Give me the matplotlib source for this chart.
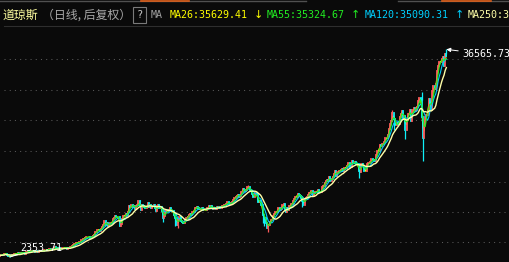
import numpy as np
import pandas as pd
import matplotlib
matplotlib.use("Agg")
import matplotlib.pyplot as plt
from matplotlib.patches import Rectangle

# Dow Jones monthly closes, Jan 1990 .. Nov 2021 (one row per year)
monthly_close = [
    [2590, 2627, 2707, 2657, 2877, 2881, 2905, 2614, 2452, 2442, 2560, 2634],
    [2736, 2882, 2914, 2888, 3028, 2907, 3025, 3044, 3017, 3069, 2895, 3169],
    [3223, 3268, 3235, 3359, 3397, 3319, 3394, 3257, 3272, 3226, 3305, 3301],
    [3310, 3371, 3435, 3428, 3527, 3516, 3539, 3651, 3555, 3681, 3684, 3754],
    [3978, 3832, 3636, 3682, 3758, 3625, 3765, 3913, 3843, 3908, 3739, 3834],
    [3844, 4011, 4158, 4321, 4465, 4556, 4708, 4611, 4789, 4755, 5074, 5117],
    [5395, 5486, 5587, 5569, 5643, 5655, 5529, 5616, 5882, 6029, 6522, 6448],
    [6813, 6878, 6583, 7009, 7331, 7673, 8223, 7622, 7945, 7442, 7823, 7908],
    [7907, 8546, 8800, 9063, 8900, 8952, 8883, 7539, 7843, 8592, 9117, 9181],
    [9359, 9307, 9786, 10789, 10560, 10971, 10655, 10829, 10337, 10730, 10878, 11497],
    [10941, 10128, 10922, 10734, 10522, 10448, 10522, 11215, 10651, 10971, 10414, 10787],
    [10887, 10495, 9879, 10735, 10912, 10502, 10523, 9950, 8848, 9075, 9852, 10022],
    [9920, 10106, 10404, 9946, 9925, 9243, 8737, 8664, 7592, 8397, 8896, 8342],
    [8054, 7891, 7992, 8480, 8850, 8985, 9234, 9416, 9275, 9801, 9782, 10454],
    [10488, 10584, 10358, 10226, 10188, 10435, 10140, 10174, 10080, 10027, 10428, 10783],
    [10490, 10766, 10504, 10193, 10467, 10275, 10641, 10482, 10569, 10440, 10806, 10718],
    [10865, 10993, 11109, 11367, 11168, 11150, 11186, 11381, 11679, 12081, 12222, 12463],
    [12622, 12269, 12354, 13063, 13628, 13409, 13212, 13358, 13896, 13930, 13372, 13265],
    [12650, 12266, 12263, 12820, 12638, 11350, 11378, 11544, 10851, 9325, 8829, 8776],
    [8001, 7063, 7609, 8168, 8500, 8447, 9172, 9496, 9712, 9713, 10345, 10428],
    [10067, 10325, 10857, 11009, 10137, 9774, 10466, 10015, 10788, 11118, 11006, 11578],
    [11892, 12226, 12320, 12811, 12570, 12414, 12143, 11614, 10913, 11955, 12046, 12218],
    [12633, 12952, 13212, 13214, 12393, 12880, 13009, 13091, 13437, 13096, 13026, 13104],
    [13861, 14054, 14579, 14840, 15116, 14910, 15500, 14810, 15130, 15546, 16086, 16577],
    [15699, 16322, 16458, 16581, 16717, 16827, 16563, 17098, 17043, 17391, 17828, 17823],
    [17165, 18133, 17776, 17841, 18011, 17620, 17690, 16528, 16285, 17664, 17720, 17425],
    [16466, 16517, 17685, 17774, 17787, 17930, 18432, 18401, 18308, 18142, 19124, 19763],
    [19864, 20812, 20663, 20941, 21009, 21350, 21891, 21948, 22405, 23377, 24272, 24719],
    [26149, 25029, 24103, 24163, 24416, 24271, 25415, 25965, 26458, 25116, 25538, 23327],
    [25000, 25916, 25929, 26593, 24815, 26600, 26864, 26403, 26917, 27046, 28051, 28538],
    [28256, 25409, 21917, 24346, 25383, 25813, 26428, 28430, 27782, 26502, 29639, 30606],
    [29983, 30932, 32982, 33875, 34529, 34503, 34935, 35361, 33844, 35820, 35400],
]

# intramonth extremes that stick out of the band
high_months = ['2000-01', '2007-10', '2018-01', '2020-02', '2021-11']
high_values = [11750, 14198, 26617, 29568, 36565.73]
low_months = ['1990-10', '1998-08', '2001-09', '2002-07', '2002-10', '2008-10',
              '2008-11', '2009-03', '2011-08', '2015-08', '2018-02', '2018-12', '2020-03']
low_values = [2353.71, 7400, 8062, 7532, 7197, 7882, 7449, 6470, 10604, 15370,
              23360, 21713, 18214]

ma_names = ['MA26', 'MA55', 'MA120', 'MA250']
ma_last = ['35629.41', '35324.67', '35090.31', '3']
ma_windows = [2, 3, 6, 12]  # daily windows expressed in months
ma_colors = ['#ffff00', '#22ee22', '#00d0ff', '#ffffa8']
ma_arrows = ['↓', '↑', '↑', '']

title = '道琼斯'
subtitle = '（日线, 后复权）'

BG = '#0a0a0a'
UP = '#ff5a5a'
DOWN = '#10f0f8'

close = np.concatenate([np.array(r, dtype=float) for r in monthly_close])
n = len(close)
idx = np.arange(n)
opens = np.r_[close[0], close[:-1]]
up = close >= opens
colors = np.where(up, UP, DOWN)


def month_index(s):
    y, m = s.split('-')
    return (int(y) - 1990) * 12 + int(m) - 1


fig = plt.figure(figsize=(5.09, 2.62), dpi=100, facecolor=BG)

# pixel-coordinate layer underneath: grid, header, frame bits
ov = fig.add_axes([0, 0, 1, 1], facecolor=BG)
ov.set_xlim(0, 509)
ov.set_ylim(262, 0)
ov.axis('off')

for gy in [58, 89, 119, 150, 181, 211, 241]:
    ov.plot([4, 509], [gy + 0.5, gy + 0.5], color='#5a5a5a', lw=0.75,
            dashes=(1, 4))

ov.plot([4, 509], [25.5, 25.5], color='#2e2e2e', lw=0.8)
ov.plot([0, 306], [0.8, 0.8], color='#505050', lw=1.0)
ov.plot([398, 509], [0.8, 0.8], color='#505050', lw=1.0)
ov.plot([141, 189], [1.0, 1.0], color='#e0601a', lw=1.2)
ov.plot([442, 491], [1.0, 1.0], color='#e0601a', lw=1.2)

ov.text(3, 15, title, color='#ffffa0', fontsize=8.6, family='Noto Sans CJK SC',
        ha='left', va='center')
ov.text(42, 15, subtitle, color='#a8a8a8', fontsize=8.6, family='Noto Sans CJK SC',
        ha='left', va='center')
ov.add_patch(Rectangle((133.5, 6.5), 13, 16, fill=False, ec='#7a7a7a', lw=0.8))
ov.text(140, 15, '?', color='#c8c8c8', fontsize=7.5, family='DejaVu Sans Mono',
        ha='center', va='center')
ov.text(151, 15, 'MA', color='#a0a0a0', fontsize=7.2, family='DejaVu Sans Mono',
        ha='left', va='center')

label_x = [170, 267, 365, 468]
arrow_x = [258.5, 355, 459.5, 0]
for name, val, col, arr, lx, axx in zip(ma_names, ma_last, ma_colors, ma_arrows,
                                         label_x, arrow_x):
    ov.text(lx, 15, f'{name}:{val}', color=col, fontsize=7.2,
            family='DejaVu Sans Mono', ha='left', va='center')
    if arr:
        ov.text(axx, 15, arr, color=col, fontsize=8, family='DejaVu Sans',
                ha='center', va='center')

# price layer
ax = fig.add_axes([0, 0, 1, 1])
ax.patch.set_alpha(0)
ax.set_xlim(0.82, 435.5)
ax.set_ylim(1527, 44700)
ax.axis('off')

mas = [pd.Series(close).rolling(w, min_periods=1).mean() for w in ma_windows]
ax.plot(idx, mas[0], color=ma_colors[0], lw=0.9, zorder=1)

lo = np.minimum(opens, close)
hi = np.maximum(opens, close)
ax.vlines(idx, lo, hi, colors=colors, lw=1.3, zorder=3, capstyle='projecting')

for m, v in zip(high_months, high_values):
    i = month_index(m)
    ax.vlines(i, hi[i], v, colors=colors[i], lw=0.9, zorder=3)
for m, v in zip(low_months, low_values):
    i = month_index(m)
    ax.vlines(i, v, lo[i], colors=colors[i], lw=0.9, zorder=3)

ax.plot(idx, mas[2], color=ma_colors[2], lw=0.8, zorder=4)
ax.plot(idx, mas[1], color=ma_colors[1], lw=0.8, zorder=4)
ax.plot(idx, mas[3], color=ma_colors[3], lw=1.0, zorder=4)

# max / min labels
i_hi = month_index(high_months[-1])
ax.annotate(f'{high_values[-1]:.2f}', xy=(i_hi, high_values[-1]), xytext=(16, -5),
            textcoords='offset pixels', color='white', fontsize=7.2,
            family='DejaVu Sans Mono', ha='left', va='center', zorder=6,
            arrowprops=dict(arrowstyle='-|>', color='white', lw=0.7,
                            mutation_scale=6, shrinkA=1, shrinkB=0))
i_lo = month_index(low_months[0])
ax.annotate(f'{low_values[0]:.2f}', xy=(i_lo, low_values[0]), xytext=(11, 9),
            textcoords='offset pixels', color='white', fontsize=7.2,
            family='DejaVu Sans Mono', ha='left', va='center', zorder=6,
            arrowprops=dict(arrowstyle='-', color='white', lw=0.7,
                            shrinkA=0, shrinkB=0))

fig.savefig('out.png', dpi=100, facecolor=BG)
